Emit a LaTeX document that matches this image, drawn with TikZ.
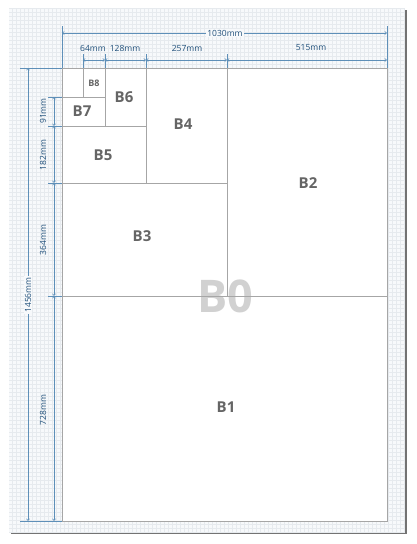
\documentclass[tikz,border=0pt]{standalone}
\usepackage{fontspec}
\setmainfont{Open Sans}
\usetikzlibrary{arrows.meta,positioning}
\definecolor{dimblue}{HTML}{5E8FB8}
\definecolor{dimtext}{HTML}{1F4F7A}
\definecolor{cutline}{HTML}{A6A6A6}
\definecolor{paper}{HTML}{F7F9FB}
\definecolor{gridline}{HTML}{E6EAEE}
\definecolor{sizegray}{HTML}{656565}
\tikzset{
  dim/.style={draw=dimblue, line width=0.6pt, {Straight Barb[length=1.8pt,width=3pt]}-{Straight Barb[length=1.8pt,width=3pt]}},
  ext/.style={draw=dimblue, line width=0.6pt},
  cut/.style={draw=cutline, line width=0.8pt},
  sizelabel/.style={font=\bfseries\fontsize{15}{15}\selectfont, text=sizegray},
  dimlabel/.style={font=\fontsize{8.5}{9}\selectfont, text=dimtext, inner sep=1pt}
}
\begin{document}
\begin{tikzpicture}[x=1pt,y=-1pt]
\useasboundingbox (0,0) rectangle (416,544);
% sheet of grid paper
\fill[black!55] (11,10) rectangle (407,534);
\fill[paper] (9,8) rectangle (405,532);
\draw[gridline, line width=0.25pt] (9,8) grid[step=4pt] (405,532);
\fill[white] (62,68) rectangle (387,521);
\node[font=\bfseries\fontsize{45}{45}\selectfont, text=black!18] (b0) at (225,296) {B0};
% cuts
\draw[cut] (62,68) rectangle (387,521);
\draw[cut] (227,68) -- (227,296);
\draw[cut] (62,296) -- (387,296);
\draw[cut] (62,183) -- (227,183);
\draw[cut] (146,68) -- (146,183);
\draw[cut] (62,126) -- (146,126);
\draw[cut] (105,68) -- (105,126);
\draw[cut] (62,97) -- (105,97);
\draw[cut] (83,68) -- (83,97);
\node[sizelabel] (b1) at (226,407) {B1};
\node[sizelabel] (b2) at (308,183) {B2};
\node[sizelabel] (b3) at (142,236) {B3};
\node[sizelabel] (b4) at (183,124) {B4};
\node[sizelabel] (b5) at (103,155) {B5};
\node[sizelabel] (b6) at (124,97) {B6};
\node[sizelabel] (b7) at (82,111) {B7};
\node[sizelabel, font=\bfseries\fontsize{9}{9}\selectfont] (b8) at (94,83) {B8};
% widths
\coordinate (w0) at (62,33);  \coordinate (w5) at (387,33);
\coordinate (t1) at (83,60);  \coordinate (t2) at (105,60);
\coordinate (t3) at (146,60); \coordinate (t4) at (227,60);
\coordinate (t5) at (387,60);
\draw[ext] (62,26) -- (62,68);
\draw[ext] (387,26) -- (387,68);
\foreach \x in {83,105,146,227} \draw[ext] (\x,54) -- (\x,68);
\draw[dim] (w0) -- (w5);
\node[dimlabel, fill=paper] (w) at (225,33) {1030mm};
\draw[dim] (t1) -- (t2);
\draw[dim] (t2) -- (t3);
\draw[dim] (t3) -- (t4);
\draw[dim] (t4) -- (t5);
\node[dimlabel] (w64) at (93,48) {64mm};
\node[dimlabel] (w128) at (125,48) {128mm};
\node[dimlabel] (w257) at (187,48) {257mm};
\node[dimlabel] (w515) at (311,48) {515mm};
% heights
\coordinate (h0) at (28,68);  \coordinate (h5) at (28,521);
\coordinate (s1) at (54,97);  \coordinate (s2) at (54,126);
\coordinate (s3) at (54,183); \coordinate (s4) at (54,296);
\coordinate (s5) at (54,521);
\draw[ext] (20,68) -- (62,68);
\draw[ext] (20,521) -- (62,521);
\foreach \y in {97,126,183,296} \draw[ext] (48,\y) -- (62,\y);
\draw[dim] (h0) -- (h5);
\node[dimlabel, fill=paper, rotate=90] (h) at (28,295) {1456mm};
\draw[dim] (s1) -- (s2);
\draw[dim] (s2) -- (s3);
\draw[dim] (s3) -- (s4);
\draw[dim] (s4) -- (s5);
\node[dimlabel, rotate=90] (h91) at (43,111) {91mm};
\node[dimlabel, rotate=90] (h182) at (43,155) {182mm};
\node[dimlabel, rotate=90] (h364) at (43,240) {364mm};
\node[dimlabel, rotate=90] (h728) at (43,410) {728mm};
\end{tikzpicture}
\end{document}
